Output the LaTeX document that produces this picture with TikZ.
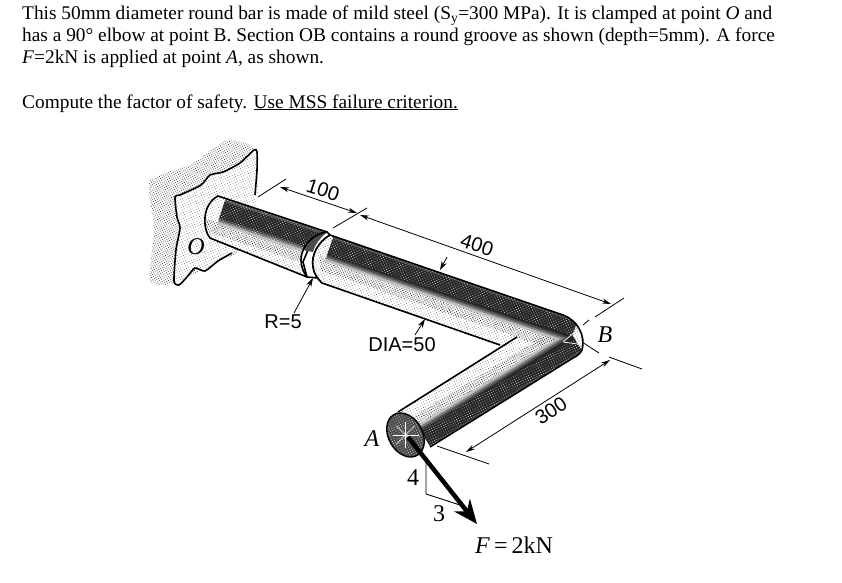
\documentclass[tikz,border=0pt]{standalone}
\usepackage{fontspec}
\setmainfont{Liberation Serif}
\setsansfont{Liberation Sans}
\usetikzlibrary{arrows.meta,patterns.meta}
\tikzset{
  para/.style={anchor=base west,inner sep=0pt,font=\fontsize{19.35}{22}\selectfont},
  dimnum/.style={inner sep=0pt,font=\sffamily\fontsize{20}{22}\selectfont},
  tag/.style={inner sep=0pt,font=\fontsize{24}{26}\selectfont},
  extline/.style={line width=.8pt},
  dimline/.style={line width=.8pt,{Stealth[length=9pt,width=5pt]}-{Stealth[length=9pt,width=5pt]}},
  pointer/.style={line width=.8pt,-{Stealth[length=9pt,width=5.5pt]}},
  outline/.style={line width=1.6pt},
  stipple/.style={pattern={Dots[distance=2pt,radius=.42pt,angle=25]},pattern color=black},
  lightdots/.style={pattern={Dots[distance=2.6pt,radius=.4pt,angle=25]},pattern color=black!75},
  whitedots/.style={pattern={Dots[distance=2.4pt,radius=.42pt,angle=25]},pattern color=white}
}
\begin{document}
\begin{tikzpicture}[x=1pt,y=-1pt]
  \useasboundingbox (0,0) rectangle (842,582);
  % text
  \node[para] (line1) at (22,19) {This 50mm diameter round bar is made of mild steel (S\textsubscript{y}=300 MPa). It is clamped at point \textit{O} and};
  \node[para] (line2) at (22,41) {has a 90° elbow at point B. Section OB contains a round groove as shown (depth=5mm). A force};
  \node[para] (line3) at (22,63) {\textit{F}=2kN is applied at point \textit{A}, as shown.};
  \node[para] (line4) at (22,108) {Compute the factor of safety. \underline{Use MSS failure criterion.}};
  % wall
  \fill[stipple] plot[smooth cycle,tension=.4] coordinates {(150,181) (190,165) (226,141) (252,146) (258,170) (256,200) (240,250) (215,262) (175,283) (150,281) (154,230)};
  \fill[white] plot[smooth cycle,tension=.4] coordinates {(254,150) (240,163) (223,172) (210,175) (201,185) (180,195) (175,197) (177,217) (180,228) (176,250) (174,281) (179,285) (187,277) (195,268) (205,271) (218,261) (232,253) (256,205) (257,170)};
  \fill[lightdots] plot[smooth cycle,tension=.4] coordinates {(254,150) (240,163) (223,172) (210,175) (201,185) (180,195) (175,197) (177,217) (180,228) (176,250) (174,281) (179,285) (187,277) (195,268) (205,271) (218,261) (232,253) (256,205) (257,170)};
  \draw[outline] plot[smooth,tension=.4] coordinates {(232,253) (218,261) (205,271) (195,268) (187,277) (179,285) (174,281) (176,250) (180,228) (177,217) (175,197) (180,195) (201,185) (210,175) (223,172) (240,163) (254,150) (257,152) (257,170) (255,195)};
  \node[tag,font=\itshape\fontsize{24}{26}\selectfont] (O) at (196,247) {O};
  % groove
  \filldraw[outline,fill=white] (315,233) -- (327,232) -- (330,235) .. controls (318,242) and (311,255) .. (313,267) .. controls (314,274) and (318,279) .. (322,283) -- (318,278) -- (307,277) -- (303,262) -- cycle;
  \fill[black!70] (306,243) .. controls (311,236) and (318,233) .. (326,233) .. controls (318,240) and (314,247) .. (313,252) -- (303,250) -- cycle;
  % segment O to groove
  \begin{scope}
    \clip (218,196) -- (327,232) .. controls (315,233) and (301,245) .. (301,260) .. controls (301,267) and (304,273) .. (307,277) -- (210,238) .. controls (203,230) and (201,205) .. (218,196) -- cycle;
    \fill[white] (190,180) rectangle (340,290);
    \fill[lightdots] (190,180) rectangle (340,290);
    \fill[stipple] (190,213) -- (340,262) -- (340,275) -- (190,226) -- cycle;
    \foreach \w/\c in {30/black!25,25/black!50,21/black!70,17/black!85}
      \draw[line width=\w,\c] (222,210) -- (320,242);
    \fill[whitedots] (190,180) -- (340,228) -- (340,262) -- (190,215) -- cycle;
  \end{scope}
  \draw[outline] (327,232) -- (218,196) .. controls (201,205) and (203,230) .. (210,238) -- (307,277);
  \draw[outline] (327,232) .. controls (315,233) and (301,245) .. (301,260) .. controls (301,267) and (304,273) .. (307,277);
  % segment groove to B to A
  \begin{scope}
    \clip (330,235) -- (563,315) .. controls (577,320) and (586,335) .. (582,350) .. controls (580,354) and (577,356) .. (573,358) -- (430,447) -- (398,412) -- (503,346) -- (322,283) .. controls (318,279) and (314,274) .. (313,267) .. controls (311,255) and (318,242) .. (330,235) -- cycle;
    \fill[white] (300,220) rectangle (600,460);
    \fill[lightdots] (300,220) rectangle (600,460);
    \fill[stipple] (320,255) -- (590,347) -- (590,362) -- (320,270) -- cycle;
    \fill[stipple] (580,330) -- (410,437) -- (400,425) -- (570,320) -- cycle;
    \foreach \w/\c in {30/black!25,25/black!50,21/black!70,17/black!85} {
      \draw[line width=\w,\c] (330,247) -- (574,330);
      \draw[line width=\w,\c] (577,343) -- (425,438);
    }
    \fill[whitedots] (330,225) -- (600,317) -- (600,345) -- (330,255) -- cycle;
    \fill[whitedots] (590,330) -- (600,350) -- (440,460) -- (420,430) -- cycle;
    \draw[line width=.7pt,white] (563,342) -- (583,325) (563,342) -- (585,345);
  \end{scope}
  \draw[outline] (500,345) -- (322,283) .. controls (318,279) and (314,274) .. (313,267) .. controls (311,255) and (318,242) .. (330,235) -- (563,315) .. controls (577,320) and (586,335) .. (582,350) .. controls (580,354) and (577,356) .. (573,358) -- (430,447);
  \draw[outline] (398,412) -- (517,337);
  % end A
  \filldraw[line width=1.3pt,fill=black!70] (405.5,435) ellipse [x radius=23.5,y radius=17,rotate=-60];
  \fill[whitedots] (405.5,435) ellipse [x radius=22,y radius=15.5,rotate=-60];
  \foreach \a in {0,45,...,315}
    \draw[white,line width=.6pt] (405.5,435) -- ++(\a:13);
  % dimensions
  \coordinate (a1) at (258,197); \coordinate (a2) at (286,179);
  \coordinate (b1) at (333,228); \coordinate (b2) at (367,208);
  \coordinate (c1) at (595,317); \coordinate (c2) at (624,298);
  \coordinate (c3) at (583,325); \coordinate (c4) at (589,320);
  \coordinate (d1) at (582,342); \coordinate (d2) at (599,353);
  \coordinate (d3) at (609,357); \coordinate (d4) at (642,369);
  \coordinate (e1) at (437,446); \coordinate (e2) at (489,464);
  \draw[extline] (a1) -- (a2) (b1) -- (b2) (c1) -- (c2) (c3) -- (c4) (d1) -- (d2) (d3) -- (d4) (e1) -- (e2);
  \coordinate (p100) at (280,187); \coordinate (q100) at (357,213);
  \coordinate (p400) at (360,215); \coordinate (q400) at (611,304);
  \coordinate (p300) at (610,360); \coordinate (q300) at (466,452);
  \draw[dimline] (p100) -- (q100);
  \draw[dimline] (p400) -- (q400);
  \draw[dimline] (p300) -- (q300);
  \node[dimnum,rotate=-18] (n100) at (323,190) {100};
  \node[dimnum,rotate=-18] (n400) at (477,245) {400};
  \node[dimnum,rotate=33] (n300) at (551,411) {300};
  \node[dimnum] (r5) at (283,322) {R=5};
  \node[dimnum] (dia) at (402,345) {DIA=50};
  \coordinate (r5tip) at (313,278);
  \coordinate (diatip) at (425,319);
  \coordinate (top0) at (447,257); \coordinate (toptip) at (440,270);
  \draw[pointer] (294,313) -- (r5tip);
  \draw[pointer] (415,335) -- (diatip);
  \draw[pointer] (top0) -- (toptip);
  % force
  \node[tag,font=\itshape\fontsize{24}{26}\selectfont] (A) at (372,439) {A};
  \node[tag,font=\itshape\fontsize{24}{26}\selectfont] (B) at (605,335) {B};
  \node[tag] (F) at (514,545) {\textit{F}\,=\,2kN};
  \node[tag] (four) at (413,478) {4};
  \node[tag] (three) at (439,514) {3};
  \coordinate (s1) at (426,463); \coordinate (s2) at (426,494); \coordinate (s3) at (460,505);
  \draw[line width=.9pt] (s1) -- (s2) -- (s3);
  \coordinate (f0) at (408,437); \coordinate (f1) at (477,524);
  \draw[line width=4.5pt,-{Stealth[length=24pt,width=20pt]}] (f0) -- (f1);
\end{tikzpicture}
\end{document}
